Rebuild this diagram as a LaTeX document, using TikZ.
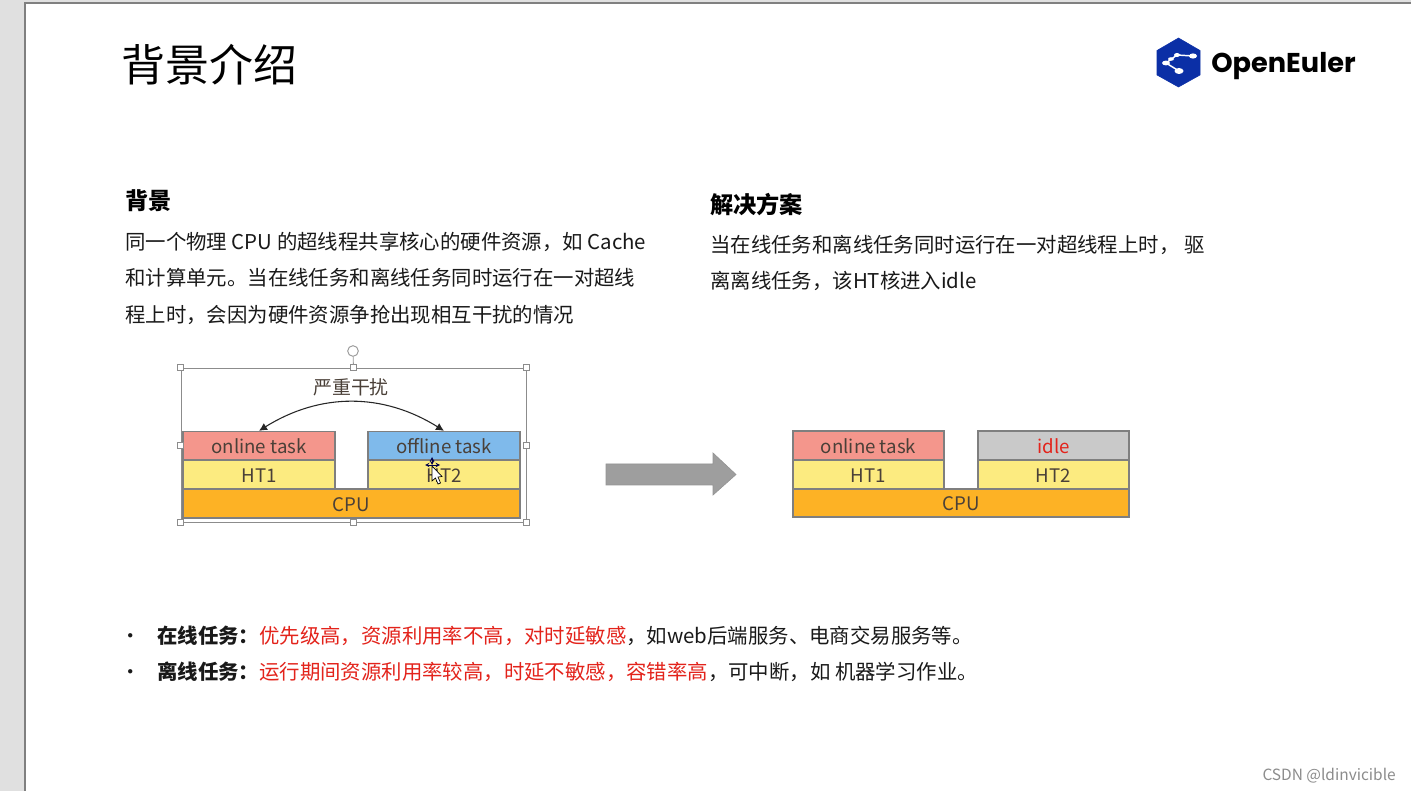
\documentclass[tikz,border=0pt]{standalone}
\usepackage{fontspec}
\usepackage{xcolor}
\setmainfont{Noto Sans CJK SC}
\newfontfamily\logofont{Poppins}
\usetikzlibrary{arrows.meta}
\newcommand{\zhcomma}{\char"FF0C\relax}
\newcommand{\zhcolon}{\char"FF1A\relax}
\definecolor{onlinered}{HTML}{F4968C}
\definecolor{offlineblue}{HTML}{7FBAEB}
\definecolor{htyellow}{HTML}{FCEB80}
\definecolor{cpuorange}{HTML}{FDB225}
\definecolor{idlegrey}{HTML}{C9C9C9}
\definecolor{boxedge}{HTML}{7F7F7F}
\definecolor{boxtext}{HTML}{4A4038}
\definecolor{alertred}{HTML}{E3231B}
\definecolor{logoblue}{HTML}{0B2FA6}
\tikzset{
	taskbox/.style={draw=boxedge,line width=1pt,inner sep=0pt,text=boxtext,font=\fontsize{14}{15}\selectfont,text height=13pt,text depth=1.5pt},
	bodytext/.style={anchor=west,inner sep=0pt,font=\fontsize{15.3}{18}\selectfont,text=black!90,text height=15pt,text depth=1.5pt},
	headtext/.style={anchor=west,inner sep=0pt,font=\fontsize{17.4}{20}\selectfont\bfseries,text height=14.5pt,text depth=1.5pt},
	handlebox/.style={draw=black!45,fill=white,line width=0.5pt,inner sep=0pt,minimum size=4.5pt},
}
\begin{document}
\begin{tikzpicture}[x=0.75pt,y=-0.75pt]
	\useasboundingbox (0,0) rectangle (1411,791);
	
	% slide
	\fill[black!12] (0,0) rectangle (1411,791);
	\fill[white] (25,3) rectangle (1411,791);
	\draw[black!50,line width=1pt] (25,791) -- (25,3) -- (1411,3);
	
	\node[anchor=west,inner sep=0pt,font=\fontsize{33}{36}\selectfont] (title) at (121,65) {背景介绍};
	
	% logo
	\draw[fill=logoblue,draw=logoblue] (1178.5,38) -- (1200,50.5) -- (1200,75) -- (1178.5,87) -- (1157,75) -- (1157,50.5) -- cycle;
	\draw[white,line width=1.1pt] (1166,63) -- (1177,55) -- (1193,56);
	\draw[white,line width=1.1pt] (1166,63) -- (1179,71);
	\fill[white] (1193,56) ellipse (4 and 2.6);
	\fill[white] (1179,71) ellipse (4.5 and 3);
	\fill[white] (1166,63) ellipse (4 and 2.4);
	\fill[white] (1177,55) ellipse (3 and 2);
	\fill[white] (1171,59) ellipse (3 and 1.8);
	\node[anchor=west,inner sep=0pt,font=\logofont\bfseries\fontsize{20.4}{24}\selectfont] (logotext) at (1211,66) {OpenEuler};
	
	% left text
	\node[headtext] (bghead) at (125,201) {背景};
	\node[bodytext] (bgline1) at (125,241) {同一个物理 CPU 的超线程共享核心的硬件资源\zhcomma 如 Cache};
	\node[bodytext] (bgline2) at (125,277) {和计算单元。当在线任务和离线任务同时运行在一对超线};
	\node[bodytext] (bgline3) at (125,314) {程上时\zhcomma 会因为硬件资源争抢出现相互干扰的情况};
	
	% right text
	\node[headtext] (solhead) at (710,205) {解决方案};
	\node[bodytext] (solline1) at (710,244) {当在线任务和离线任务同时运行在一对超线程上时\zhcomma{} 驱};
	\node[bodytext] (solline2) at (710,280) {离离线任务\zhcomma 该HT核进入idle};
	
	% left stack
	\node[taskbox,fill=onlinered,minimum width=114pt,minimum height=21.75pt] (online1) at (259,446) {online task};
	\node[taskbox,fill=htyellow,minimum width=114pt,minimum height=21.75pt] (ht1a) at (259,474.5) {HT1};
	\node[taskbox,fill=offlineblue,minimum width=114pt,minimum height=21.75pt] (offline1) at (444,446) {offline task};
	\node[taskbox,fill=htyellow,minimum width=114pt,minimum height=21.75pt] (ht2a) at (444,474.5) {HT2};
	\node[taskbox,fill=cpuorange,minimum width=252.75pt,minimum height=21.75pt] (cpua) at (351.5,503.5) {CPU};
	
	\draw[arrows={Latex[length=6pt,width=6pt]-Latex[length=6pt,width=6pt]},line width=0.8pt,black!85] (online1.north) to[out=32,in=148] (offline1.north);
	\node[inner sep=0pt,text=boxtext,font=\fontsize{14.2}{15}\selectfont] (harm) at (351,387) {严重干扰};
	
	% selection frame
	\node[draw=black!45,line width=0.6pt,inner sep=0pt,minimum width=258.75pt,minimum height=115.5pt] (selframe) at (353.5,445) {};
	\foreach \a in {north west,north,north east,west,east,south west,south,south east}
		\node[handlebox] (grip \a) at (selframe.\a) {};
	\node[draw=black!40,circle,line width=0.7pt,inner sep=0pt,minimum size=8pt,fill=white] (rotgrip) at (353,351) {};
	\draw[black!40,line width=0.6pt] (rotgrip) -- (grip north);
	
	% cursor
	\draw[fill=white,draw=black,line width=0.5pt] (432,466) -- (432,481) -- (435.5,478) -- (438,484) -- (440.5,483) -- (438,477) -- (442,476.5) -- cycle;
	\draw[<->,>=stealth,line width=0.5pt,black!70!blue] (425,465) -- (440,465);
	\draw[<->,>=stealth,line width=0.5pt,black!70!blue] (432,457) -- (432,465);
	
	% big arrow
	\draw[fill=black!38,draw=black!42,line width=0.5pt] (606,464) -- (713,464) -- (713,453) -- (736,474.5) -- (713,495) -- (713,485) -- (606,485) -- cycle;
	
	% right stack
	\node[taskbox,fill=onlinered,minimum width=113.25pt,minimum height=21.75pt] (online2) at (868.5,445.5) {online task};
	\node[taskbox,fill=htyellow,minimum width=113.25pt,minimum height=21.75pt] (ht1b) at (868.5,474.5) {HT1};
	\node[taskbox,fill=idlegrey,minimum width=113.25pt,minimum height=21.75pt,text=alertred] (idlebox) at (1053.5,445.5) {idle};
	\node[taskbox,fill=htyellow,minimum width=113.25pt,minimum height=21.75pt] (ht2b) at (1053.5,474.5) {HT2};
	\node[taskbox,fill=cpuorange,minimum width=252pt,minimum height=21pt] (cpub) at (961,503) {CPU};
	
	% bullets
	\node[bodytext] (dot1) at (120,634.5) {•};
	\node[bodytext] (bullet1) at (157,634.5) {\textbf{在线任务\zhcolon}\textcolor{alertred}{优先级高\zhcomma 资源利用率不高\zhcomma 对时延敏感}\zhcomma 如web后端服务、电商交易服务等。};
	\node[bodytext] (dot2) at (120,670.5) {•};
	\node[bodytext] (bullet2) at (157,670.5) {\textbf{离线任务\zhcolon}\textcolor{alertred}{运行期间资源利用率较高\zhcomma 时延不敏感\zhcomma 容错率高}\zhcomma 可中断\zhcomma 如 机器学习作业。};
	
	\node[anchor=east,inner sep=0pt,text=black!45,font=\fontsize{11.6}{12}\selectfont] (mark) at (1396,776) {CSDN @ldinvicible};
\end{tikzpicture}
\end{document}
